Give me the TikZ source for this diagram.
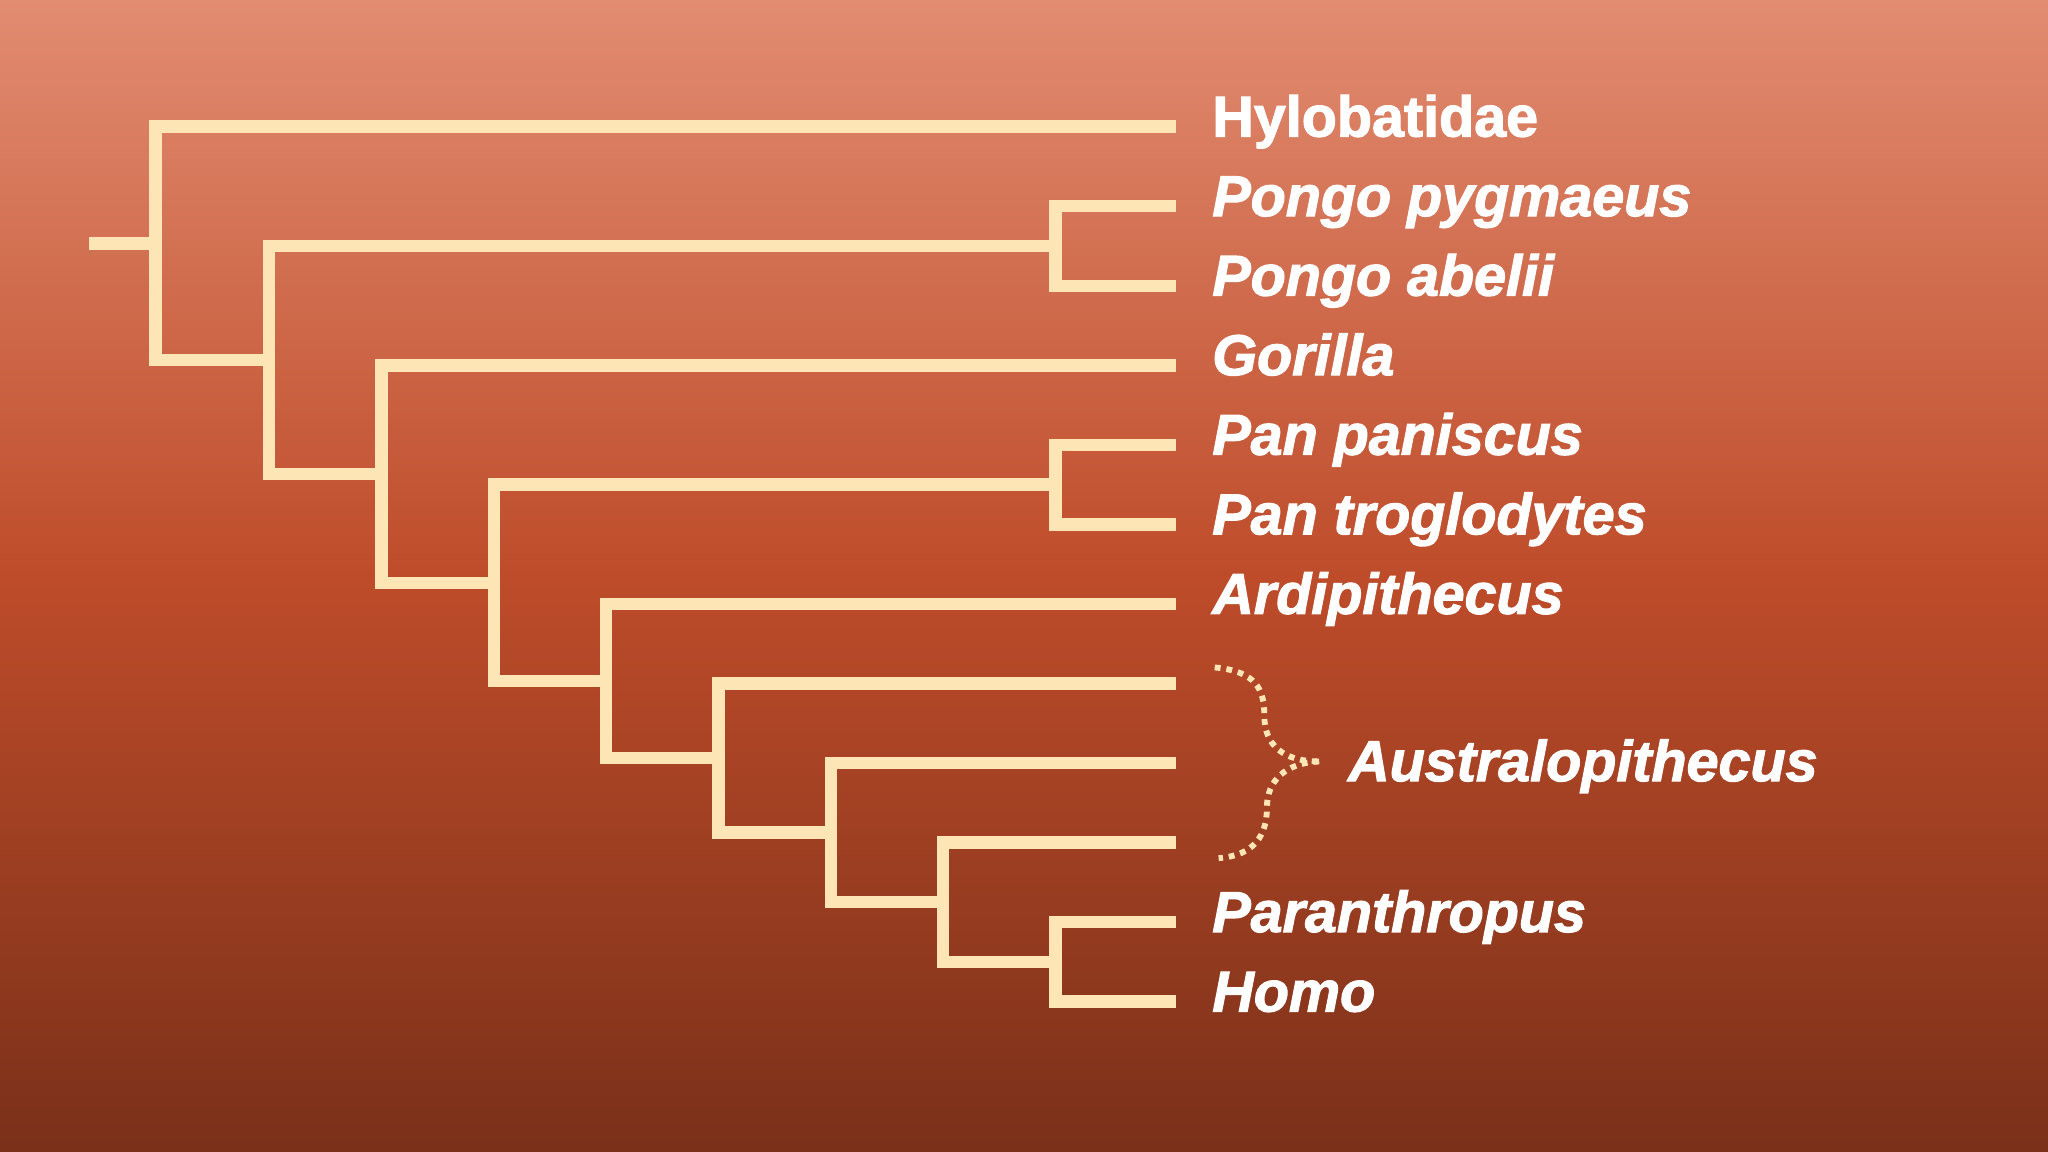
\documentclass[tikz,border=0pt]{standalone}
\usepackage{fontspec}
\setmainfont{Liberation Sans}[BoldFeatures={FakeBold=2},BoldItalicFeatures={FakeBold=2}]
\usepackage{xcolor}
\usepackage{tikz}
\usetikzlibrary{positioning,calc}
\definecolor{bgtop}{RGB}{226,140,113}
\definecolor{bgmid}{RGB}{190,76,42}
\definecolor{bgbot}{RGB}{122,48,25}
\definecolor{branch}{RGB}{253,229,182}

\begin{document}
\begin{tikzpicture}[x=1pt,y=-1pt,
    tree/.style={draw=branch, line width=9.5pt, line join=miter},
    taxon/.style={anchor=base west, inner sep=0pt, text=white, font=\fontsize{44}{50}\selectfont\bfseries\itshape},
    family/.style={taxon, font=\fontsize{44}{50}\selectfont\bfseries},
    guess/.style={draw=branch, line width=4.5pt, dash pattern=on 4.5pt off 4.5pt}]
                % Background
                \shade[top color=bgtop, bottom color=bgbot, middle color=bgmid] (0,0) rectangle (1568,882);
                \useasboundingbox (0,0) rectangle (1568,882);

                % Tips of the tree
                \coordinate (hylo) at (900,97);
                \coordinate (ppyg) at (900,157.9);
                \coordinate (pabe) at (900,218.8);
                \coordinate (gori) at (900,279.7);
                \coordinate (ppan) at (900,340.6);
                \coordinate (ptro) at (900,401.5);
                \coordinate (ardi) at (900,462.4);
                \coordinate (aus1) at (900,523.3);
                \coordinate (aus2) at (900,584.2);
                \coordinate (aus3) at (900,645.1);
                \coordinate (para) at (900,706);
                \coordinate (homo) at (900,766.9);

                % Branch points
                \coordinate (pongo) at (808,188.35);
                \coordinate (pan) at (808,371.05);
                \coordinate (parhom) at (808,736.45);
                \coordinate (n8) at (722,690.8);
                \coordinate (n7) at (636,637.5);
                \coordinate (n6) at (550,580.4);
                \coordinate (n5) at (464,521.4);
                \coordinate (n4) at (378,446.2);
                \coordinate (n3) at (292,362.95);
                \coordinate (n2) at (206,275.65);
                \coordinate (root) at (119,186.3);
                \coordinate (stub) at (68,186.3);

                % Branches
                \draw[tree] (stub) -- (root);
                \draw[tree] (root) |- (hylo);
                \draw[tree] (root) |- (n2);
                \draw[tree] (n2) |- (pongo);
                \draw[tree] (n2) |- (n3);
                \draw[tree] (pongo) |- (ppyg);
                \draw[tree] (pongo) |- (pabe);
                \draw[tree] (n3) |- (gori);
                \draw[tree] (n3) |- (n4);
                \draw[tree] (n4) |- (pan);
                \draw[tree] (n4) |- (n5);
                \draw[tree] (pan) |- (ppan);
                \draw[tree] (pan) |- (ptro);
                \draw[tree] (n5) |- (ardi);
                \draw[tree] (n5) |- (n6);
                \draw[tree] (n6) |- (aus1);
                \draw[tree] (n6) |- (n7);
                \draw[tree] (n7) |- (aus2);
                \draw[tree] (n7) |- (n8);
                \draw[tree] (n8) |- (aus3);
                \draw[tree] (n8) |- (parhom);
                \draw[tree] (parhom) |- (para);
                \draw[tree] (parhom) |- (homo);

                % Names
                \node[family] (lhylo) at (928,104.5) {Hylobatidae};
                \node[taxon] (lppyg) at (928,165.4) {Pongo pygmaeus};
                \node[taxon] (lpabe) at (928,226.3) {Pongo abelii};
                \node[taxon] (lgori) at (928,287.2) {Gorilla};
                \node[taxon] (lppan) at (928,348.1) {Pan paniscus};
                \node[taxon] (lptro) at (928,409) {Pan troglodytes};
                \node[taxon] (lardi) at (928,469.9) {Ardipithecus};
                \node[taxon] (lpara) at (928,713.5) {Paranthropus};
                \node[taxon] (lhomo) at (928,774.4) {Homo};

                % Australopithecus brace
                \coordinate (btop) at (930,511);
                \coordinate (btip) at (1010,583);
                \coordinate (bbot) at (933,657);
                \draw[guess] (btop) .. controls (962,514) and (968,528) .. (968,548)
                    .. controls (968,570) and (982,583) .. (btip);
                \draw[guess] (btip) .. controls (984,584) and (970,598) .. (970,618)
                    .. controls (970,640) and (960,655) .. (bbot);
                \node[taxon] (laus) at (1032,598) {Australopithecus};
\end{tikzpicture}
\end{document}
